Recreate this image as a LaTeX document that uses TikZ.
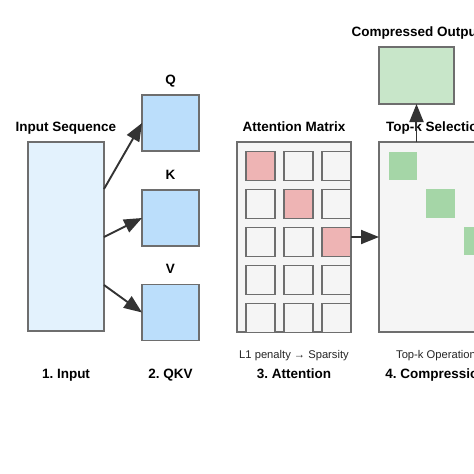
\documentclass[tikz,border=0pt]{standalone}
\usepackage{fontspec}
\setmainfont{Liberation Sans}
\usepackage{xcolor}
\definecolor{inputcol}{HTML}{E3F2FD}
\definecolor{qkvcol}{HTML}{BBDEFB}
\definecolor{matcol}{HTML}{F5F5F5}
\definecolor{hotcol}{HTML}{EEB4B4}
\definecolor{keepcol}{HTML}{A5D6A7}
\definecolor{outcol}{HTML}{C8E6C9}
\definecolor{edgecol}{HTML}{6E6E6E}
\definecolor{arrowcol}{HTML}{333333}
\usetikzlibrary{arrows.meta,positioning,calc}
\frenchspacing

\begin{document}
\begin{tikzpicture}[x=1pt, y=-1pt,
  box/.style={rectangle, draw=edgecol, line width=1.2pt, inner sep=0pt, outer sep=0pt},
  boxin/.style={box, fill=inputcol, minimum width=76pt, minimum height=189pt},
  boxqkv/.style={box, fill=qkvcol, minimum width=57pt, minimum height=56pt},
  boxmat/.style={box, fill=matcol, minimum width=114pt, minimum height=190pt},
  boxout/.style={box, fill=outcol, minimum width=75pt, minimum height=57pt},
  cell/.style={box, fill=matcol, minimum size=29pt},
  hot/.style={fill=hotcol},
  keep/.style={rectangle, fill=keepcol, inner sep=0pt, minimum size=28.5pt},
  arr/.style={-{Triangle[length=18pt, width=14pt]}, line width=1.9pt, color=arrowcol},
  ttl/.style={font=\fontsize{13.5}{15}\selectfont\bfseries, text=black, inner sep=0pt,
              text height=9.5pt, text depth=2.5pt},
  note/.style={font=\fontsize{11.2}{13}\selectfont, text=black!85, inner sep=0pt}
]
\useasboundingbox (0,0) rectangle (474,474);
\clip (0,0) rectangle (474,474);

%% input and projections
\node[boxin]  (in) at (66,236.5) {};
\node[boxqkv] (q)  at (170.5,123) {};
\node[boxqkv] (k)  at (170.5,218) {};
\node[boxqkv] (v)  at (170.5,312.5) {};

\node[ttl, above=8pt of in] {Input Sequence};
\node[ttl, above=8pt of q]  {Q};
\node[ttl, above=8pt of k]  {K};
\node[ttl, above=8pt of v]  {V};

\coordinate (inq) at ($(in.north east)+(0,47)$);
\coordinate (ink) at ($(in.north east)+(0,95)$);
\coordinate (inv) at ($(in.north east)+(0,143)$);
\draw[arr] (inq) -- (q.west);
\draw[arr] (ink) -- (k.west);
\draw[arr] (inv) -- (v.west);

%% attention matrix
\node[boxmat] (att) at (294,237) {};
\foreach \r in {0,...,4}
  \foreach \c in {0,...,2}
    \node[cell] (cell-\r-\c) at (260.5+38*\c, 166+38*\r) {};
\foreach \i in {0,1,2}
  \node[cell, hot] (hot-\i) at (260.5+38*\i, 166+38*\i) {};
\node[ttl, above=8pt of att] {Attention Matrix};

%% top-k selection
\node[boxmat] (topk) at (436,237) {};
\foreach \i in {0,1,2}
  \node[keep] (keep-\i) at (403+37.5*\i, 166+37.5*\i) {};
\node[ttl, above=8pt of topk] {Top-k Selection};

%% output
\node[boxout] (out) at (416.5,75.5) {};
\node[ttl, above=8pt of out] {Compressed Output};

\draw[arr] (att.east) -- (topk.west);
\draw[arr] (topk.north -| out.south) -- (out.south);

%% captions
\node[note] (n3) at (294,356) {L1 penalty → Sparsity};
\node[note] (n4) at (436,356) {Top-k Operation};
\node[ttl] (s1) at (66,375)  {1. Input};
\node[ttl] (s2) at (170.5,375) {2. QKV};
\node[ttl] (s3) at (294,375) {3. Attention};
\node[ttl] (s4) at (436,375) {4. Compression};
\end{tikzpicture}
\end{document}
